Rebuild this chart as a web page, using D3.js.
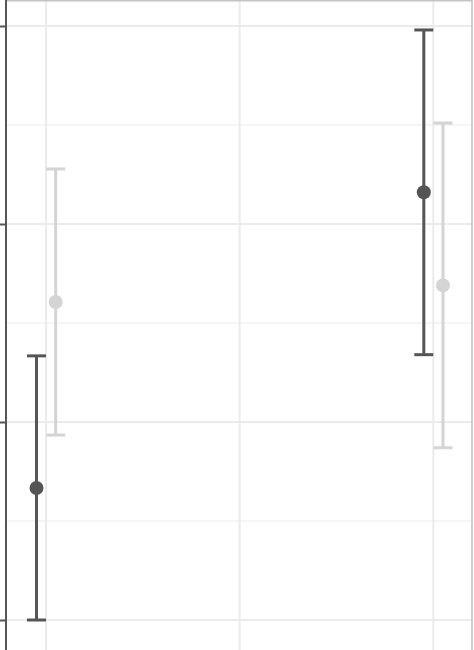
<!DOCTYPE html>
<html>
<head>
<meta charset="utf-8">
<script src="https://cdn.jsdelivr.net/npm/d3@7"></script>
<style>
  body { margin: 0; background: #fff; }
</style>
</head>
<body>
<div id="chart"></div>
<script>
// x positions of the groups and the two conditions dodged around them
const xBreaks = [1, 2, 3];
const groups = [1, 3];
const conditions = ["dark", "light"];
const conditionColors = ["#555555", "#d4d4d4"];
const dodge = [-0.049, 0.05];

// means and half-widths of the error bars, one array per condition
const darkMean = [1.667, 3.16];
const darkErr = [0.667, 0.82];
const lightMean = [2.606, 2.69];
const lightErr = [0.672, 0.82];

// y axis breaks (labels fall outside the cropped picture)
const yBreaks = [1, 2, 3, 4];
const yMinor = [1.5, 2.5, 3.5];

const width = 474, height = 650;

const svg = d3.select("#chart").append("svg")
    .attr("width", width)
    .attr("height", height);

const x = d3.scaleLinear().domain([1, 3]).range([46, 433.3]);
const y = d3.scaleLinear().domain([1, 4]).range([620, 26]);

// minor horizontal grid
svg.append("g").selectAll("line")
    .data(yMinor)
    .join("line")
    .attr("x1", 6).attr("x2", 472)
    .attr("y1", d => y(d)).attr("y2", d => y(d))
    .attr("stroke", "#ebebeb")
    .attr("stroke-width", 1);

// major grid
svg.append("g").selectAll("line")
    .data(yBreaks)
    .join("line")
    .attr("x1", 6).attr("x2", 472)
    .attr("y1", d => y(d)).attr("y2", d => y(d))
    .attr("stroke", "#ebebeb")
    .attr("stroke-width", 2);

svg.append("g").selectAll("line")
    .data(xBreaks)
    .join("line")
    .attr("x1", d => x(d)).attr("x2", d => x(d))
    .attr("y1", 0).attr("y2", height)
    .attr("stroke", "#ebebeb")
    .attr("stroke-width", 2);

// panel border (top and right visible)
svg.append("rect")
    .attr("x", 6).attr("y", 0.7)
    .attr("width", 466).attr("height", height + 10)
    .attr("fill", "none")
    .attr("stroke", "#c4c4c4")
    .attr("stroke-width", 1.6);

// left axis
const yAxis = svg.append("g")
    .attr("transform", "translate(6,0)")
    .call(d3.axisLeft(y).tickValues(yBreaks).tickSize(6).tickFormat(""));
yAxis.select(".domain")
    .attr("d", `M0,0V${height}`)
    .attr("stroke", "#555555")
    .attr("stroke-width", 2);
yAxis.selectAll(".tick line")
    .attr("stroke", "#555555")
    .attr("stroke-width", 2);

// build rows for the error bars and points
const rows = [];
groups.forEach((g, i) => {
    rows.push({ cond: 0, x: g + dodge[0], mean: darkMean[i], err: darkErr[i] });
    rows.push({ cond: 1, x: g + dodge[1], mean: lightMean[i], err: lightErr[i] });
});
// draw light ones first so dark sits on top
rows.sort((a, b) => b.cond - a.cond);

const capHalf = 9.5;

const bars = svg.append("g").selectAll("g")
    .data(rows)
    .join("g")
    .attr("stroke", d => conditionColors[d.cond])
    .attr("stroke-width", 3);

bars.append("line")
    .attr("x1", d => x(d.x)).attr("x2", d => x(d.x))
    .attr("y1", d => y(d.mean - d.err)).attr("y2", d => y(d.mean + d.err));

bars.append("line")
    .attr("x1", d => x(d.x) - capHalf).attr("x2", d => x(d.x) + capHalf)
    .attr("y1", d => y(d.mean + d.err)).attr("y2", d => y(d.mean + d.err));

bars.append("line")
    .attr("x1", d => x(d.x) - capHalf).attr("x2", d => x(d.x) + capHalf)
    .attr("y1", d => y(d.mean - d.err)).attr("y2", d => y(d.mean - d.err));

svg.append("g").selectAll("circle")
    .data(rows)
    .join("circle")
    .attr("cx", d => x(d.x))
    .attr("cy", d => y(d.mean))
    .attr("r", 7)
    .attr("fill", d => conditionColors[d.cond]);
</script>
</body>
</html>
